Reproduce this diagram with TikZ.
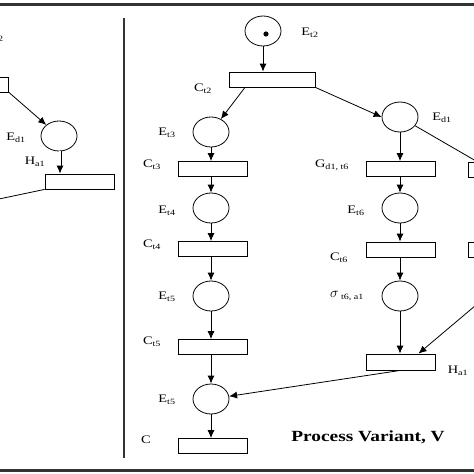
\documentclass[tikz,border=0pt]{standalone}
\usepackage{fontspec}
\setmainfont{Liberation Serif}
\newfontfamily\widefont[FakeStretch=1.25]{Liberation Serif}
\usetikzlibrary{shapes.geometric, arrows, arrows.meta}
\tikzstyle{place} = [ellipse, draw, minimum width=36pt, minimum height=30pt, inner sep=0pt]
\tikzstyle{trans} = [rectangle, draw, minimum width=69pt, minimum height=15pt, inner sep=0pt]
\tikzstyle{lbl} = [font=\widefont\fontsize{11.5}{13}\selectfont, inner sep=0pt]
\tikzstyle{line} = [draw, -{Latex[length=8pt,width=7pt]}]
\newcommand{\lsub}[1]{\textsubscript{#1}}

\begin{document}
\begin{tikzpicture}[x=1pt, y=-1pt, line width=0.8pt]
    \clip (0,0) rectangle (474,474);
    % Frame
    \draw[line width=3pt, black!80] (0,4.5) -- (474,4.5);
    \draw[line width=3pt, black!80] (0,470.5) -- (474,470.5);
    \draw[line width=1.5pt, black!80] (124,18) -- (124,458);
    % Left panel
    \node [trans] (tL1) at (-26,84.5) {};
    \node [lbl] (lEt2a) at (-5,37) {E\lsub{t2}};
    \node [place] (pL) at (59,136) {};
    \node [lbl] (lEd1a) at (16,138) {E\lsub{d1}};
    \node [trans] (tL2) at (79.5,181.5) {};
    \node [lbl] (lHa1a) at (35,162) {H\lsub{a1}};
    \coordinate (outL) at (-20,203);
    % Main panel, first column
    \node [place] (pEt2) at (263,31) {};
    \fill (266,34) circle (2.6pt);
    \node [lbl] (lEt2) at (310,33) {E\lsub{t2}};
    \node [trans, minimum width=86pt] (tCt2) at (272,79.5) {};
    \node [lbl] (lCt2) at (203,89) {C\lsub{t2}};
    \node [place] (pEt3) at (211,132) {};
    \node [lbl] (lEt3) at (167,133) {E\lsub{t3}};
    \node [trans] (tCt3) at (212.5,169) {};
    \node [lbl] (lCt3) at (152,165) {C\lsub{t3}};
    \node [place] (pEt4) at (211,208) {};
    \node [lbl] (lEt4) at (167,211) {E\lsub{t4}};
    \node [trans] (tCt4) at (212.5,249) {};
    \node [lbl] (lCt4) at (152,245) {C\lsub{t4}};
    \node [place] (pEt5) at (211,296) {};
    \node [lbl] (lEt5) at (167,297) {E\lsub{t5}};
    \node [trans] (tCt5) at (212.5,347) {};
    \node [lbl] (lCt5) at (152,342) {C\lsub{t5}};
    \node [place] (pEt6) at (211,399) {};
    \node [lbl] (lEt6) at (167,400) {E\lsub{t5}};
    \node [trans] (tC) at (212.5,446) {};
    \node [lbl] (lC) at (146,440) {C};
    % Main panel, second column
    \node [place] (pEd1) at (400,117) {};
    \node [lbl] (lEd1) at (442,118) {E\lsub{d1}};
    \node [trans] (tG) at (400.5,169) {};
    \node [lbl] (lG) at (332,165) {G\lsub{d1, t6}};
    \node [place] (pEt6b) at (400,208) {};
    \node [lbl] (lEt6b) at (356,211) {E\lsub{t6}};
    \node [trans] (tCt6) at (400.5,249.5) {};
    \node [lbl] (lCt6) at (339,258) {C\lsub{t6}};
    \node [place] (pS) at (400,296) {};
    \node [lbl] (lS) at (347,296) {\fontsize{15}{15}\selectfont$\sigma$\,\fontsize{11.5}{13}\selectfont\lsub{t6, a1}};
    \node [trans, minimum height=16pt] (tHa1) at (400.5,362) {};
    \node [lbl] (lHa1) at (458,371) {H\lsub{a1}};
    % Third column (cut off)
    \node [trans] (tR1) at (503,169.5) {};
    \node [trans] (tR2) at (503,249.5) {};
    \coordinate (inR) at (476,161);
    \coordinate (outR) at (482,300);
    \node [font=\widefont\bfseries\fontsize{15.5}{17}\selectfont] (title) at (368,437) {Process Variant, V};
    % Draw edges
    \path [line] (tL1.south east) -- (pL);
    \path [line, double, double distance=1.4pt] ([xshift=1pt]pL.south) -- ([xshift=1pt]pL.south |- tL2.north);
    \draw (tL2.south west) -- (outL);
    \path [line] (pEt2) -- (pEt2 |- tCt2.north);
    \path [line] ([xshift=-27pt]tCt2.south) -- (pEt3);
    \path [line] (tCt2.south east) -- (pEd1.west);
    \path [line] (pEt3) -- (pEt3 |- tCt3.north);
    \path [line] (pEt3 |- tCt3.south) -- (pEt4);
    \path [line] (pEt4) -- (pEt4 |- tCt4.north);
    \path [line] (pEt4 |- tCt4.south) -- (pEt5);
    \path [line] (pEt5) -- (pEt5 |- tCt5.north);
    \path [line] (pEt5 |- tCt5.south) -- (pEt6);
    \path [line] (pEt6) -- (pEt6 |- tC.north);
    \path [line] (pEd1) -- (pEd1 |- tG.north);
    \draw (pEd1) -- (inR);
    \path [line] (pEd1 |- tG.south) -- (pEt6b);
    \path [line] (pEt6b) -- (pEt6b |- tCt6.north);
    \path [line] (pEt6b |- tCt6.south) -- (pS);
    \path [line] (pS) -- (pS |- tHa1.north);
    \path [line] (outR) -- ([xshift=18pt]tHa1.north);
    \path [line] (tHa1.south) -- (pEt6);
\end{tikzpicture}
\end{document}
